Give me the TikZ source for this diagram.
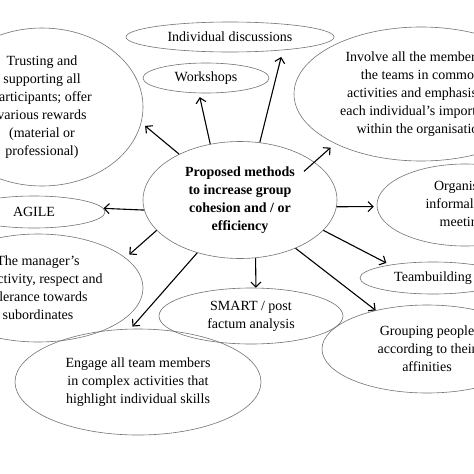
\documentclass[tikz,border=0pt]{standalone}
\usepackage{fontspec}
\setmainfont{Liberation Serif}
\usetikzlibrary{shapes.geometric,arrows.meta}

\tikzset{
    bubble/.style={ellipse, draw=black!55, line width=0.6pt, inner sep=0pt, align=center,
        font=\fontsize{14}{18}\selectfont},
    link/.style={line width=1.1pt, -{Straight Barb[length=5pt,width=10pt]}}
}

\begin{document}
\begin{tikzpicture}[x=1pt, y=-1pt]
    \useasboundingbox (0,0) rectangle (474,474);
    \clip (0,0) rectangle (474,474);
    \fill[white] (0,0) rectangle (474,474);
    \node[bubble, minimum width=194, minimum height=117, font=\fontsize{14}{18}\selectfont\bfseries] (core) at (240,200)
        {Proposed methods\\to increase group\\cohesion and / or\\efficiency};
    \node[bubble, minimum width=208, minimum height=30] (disc) at (230,37) {Individual discussions};
    \node[bubble, minimum width=126, minimum height=30] (work) at (206,78) {Workshops};
    \node[bubble, minimum width=202, minimum height=158] (trust) at (42,107)
        {Trusting and\\supporting all\\participants; offer\\various rewards\\(material or\\professional)};
    \node[bubble, minimum width=142, minimum height=32] (agile) at (34,212) {AGILE};
    \node[bubble, minimum width=210, minimum height=108] (boss) at (38,288)
        {The manager's\\objectivity, respect and\\tolerance towards\\subordinates};
    \node[bubble, minimum width=246, minimum height=106] (engage) at (138,382)
        {Engage all team members\\in complex activities that\\highlight individual skills};
    \node[bubble, minimum width=184, minimum height=56] (smart) at (251,316) {SMART / post\\factum analysis};
    \node[bubble, minimum width=146, minimum height=32] (team) at (433,278) {Teambuilding};
    \node[bubble, minimum width=210, minimum height=88] (group) at (427,349)
        {Grouping people\\according to their\\affinities};
    \node[bubble, minimum width=176, minimum height=82] (meet) at (465,205)
        {Organising\\informal team\\meetings};
    \node[bubble, minimum width=254, minimum height=134] (involve) at (421,94)
        {Involve all the members of\\the teams in common\\activities and emphasising\\each individual's importance\\within the organisation};
    \draw[link, shorten >=7pt] (core.71) -- (disc.-14);
    \draw[link, shorten >=4pt] (core.118) -- (work.-115);
    \draw[link, shorten >=5pt] (core.143) -- (trust.-9.5);
    \draw[link] (core.186) -- (agile.3);
    \draw[link, shorten >=5pt] (core.200.5) -- (boss.19.6);
    \draw[link, shorten >=3pt] (core.231.6) -- (engage.98.6);
    \draw[link] (core.-75) -- (smart.80);
    \draw[link] (core.-41) -- (group.143.3);
    \draw[link, shorten >=4pt] (core.-20.7) -- (team.163.8);
    \draw[link, shorten >=3pt] (core.-4) -- (meet.181);
    \draw[link, shorten <=-14pt, shorten >=6pt] (core.27) -- (involve.210.5);
\end{tikzpicture}
\end{document}
